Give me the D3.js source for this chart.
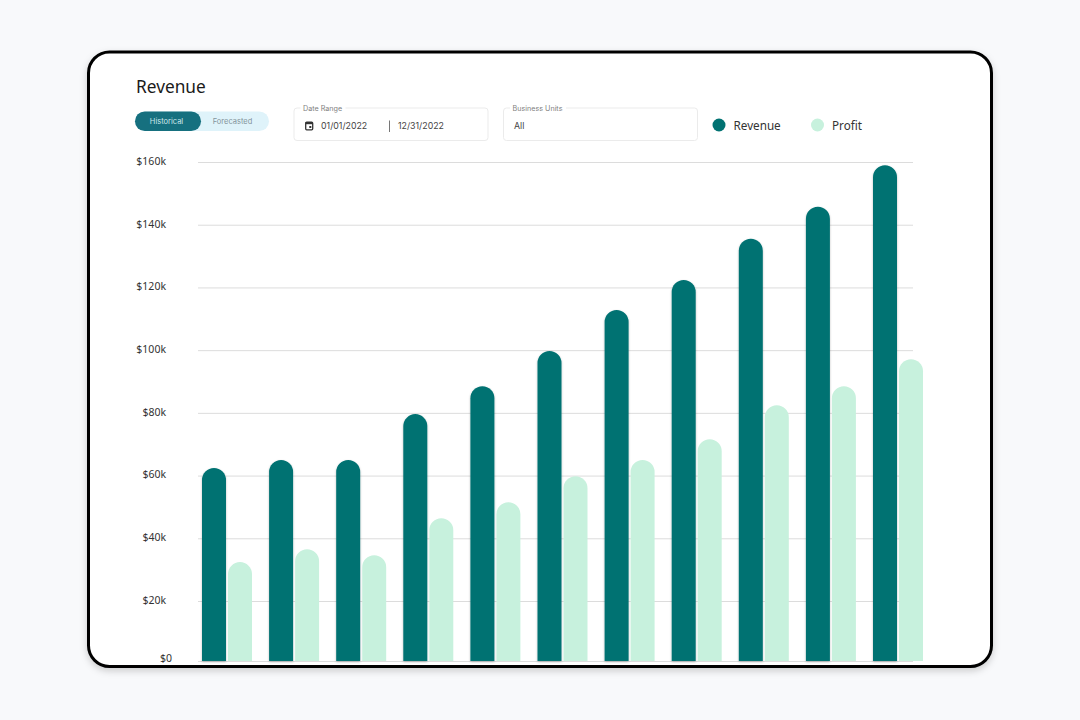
<!DOCTYPE html>
<html><head><meta charset="utf-8">
<style>html,body{margin:0;padding:0;background:#f8f9fb}svg{display:block}</style>
<script src="https://cdn.jsdelivr.net/npm/d3@7"></script></head><body>
<svg id="c" width="1080" height="720"></svg>
<script>
const categories = ["Jan","Feb","Mar","Apr","May","Jun","Jul","Aug","Sep","Oct","Nov"];
const revenue = [62400,65000,65000,79600,88500,99700,112800,122400,135500,145700,159000];
const profit = [32400,36500,34600,46400,51500,59800,65000,71600,82400,88500,97100];
const seriesNames = ["Revenue","Profit"];
const tickValues = [0,20000,40000,60000,80000,100000,120000,140000,160000];
const tickLabels = ["$0","$20k","$40k","$60k","$80k","$100k","$120k","$140k","$160k"];

const TEAL="#017272", MINT="#c7f1dd";
const sans='"Noto Sans","Open Sans",sans-serif', ui='Inter,Roboto,sans-serif';
const svg=d3.select("#c");
const defs=svg.append("defs");
const f=defs.append("filter").attr("id","cardShadow").attr("x","-5%").attr("y","-5%").attr("width","110%").attr("height","112%");
f.append("feDropShadow").attr("dx",0).attr("dy",3).attr("stdDeviation",3.5).attr("flood-color","#000").attr("flood-opacity",.18);
const fb=defs.append("filter").attr("id","barShadow").attr("x","-20%").attr("y","-5%").attr("width","140%").attr("height","110%");
fb.append("feDropShadow").attr("dx",0).attr("dy",1).attr("stdDeviation",1).attr("flood-color","#000").attr("flood-opacity",.25);

svg.append("rect").attr("x",88.5).attr("y",52).attr("width",903).attr("height",614.5).attr("rx",21)
  .attr("fill","#fff").attr("stroke","#000").attr("stroke-width",3).attr("filter","url(#cardShadow)");

svg.append("text").attr("x",136).attr("y",93).attr("font-family",sans).attr("font-size",17.3).attr("fill","#1a1a1a").text("Revenue");

// toggle
svg.append("rect").attr("x",135).attr("y",111.5).attr("width",134).attr("height",19.5).attr("rx",9.75).attr("fill","#dff3fa");
svg.append("rect").attr("x",135).attr("y",111.5).attr("width",66).attr("height",19.5).attr("rx",9.75).attr("fill","#16707f");
svg.append("text").attr("x",166.5).attr("y",124).attr("text-anchor","middle").attr("font-family",ui).attr("font-size",7.5).attr("fill","#cfe8ec").text("Historical");
svg.append("text").attr("x",232.5).attr("y",124).attr("text-anchor","middle").attr("font-family",ui).attr("font-size",7.5).attr("fill","#84949a").text("Forecasted");

// fields
function field(x,w,label,labelW){
  svg.append("rect").attr("x",x+.5).attr("y",108).attr("width",w).attr("height",32.5).attr("rx",3).attr("fill","#fff").attr("stroke","#ebebeb");
  svg.append("rect").attr("x",x+7).attr("y",104).attr("width",labelW).attr("height",7).attr("fill","#fff");
  svg.append("text").attr("x",x+9.5).attr("y",110.5).attr("font-family",ui).attr("font-size",7.2).attr("fill","#808080").text(label);
}
field(293.5,194,"Date Range",45);
field(503,194,"Business Units",56);
const val=(x,t)=>svg.append("text").attr("x",x).attr("y",129).attr("font-family",ui).attr("font-size",8.8).attr("fill","#444").text(t);
val(321,"01/01/2022"); val(398,"12/31/2022"); val(514,"All");
svg.append("line").attr("x1",389.5).attr("x2",389.5).attr("y1",120.5).attr("y2",132).attr("stroke","#777");
const ic=svg.append("g").attr("transform","translate(305,121)");
ic.append("rect").attr("x",.7).attr("y",1.2).attr("width",7).attr("height",7.6).attr("rx",1).attr("fill","none").attr("stroke","#333").attr("stroke-width",1.3);
ic.append("rect").attr("x",.5).attr("y",1).attr("width",7.5).attr("height",2.2).attr("fill","#333");
ic.append("rect").attr("x",4.3).attr("y",5).attr("width",2).attr("height",2).attr("fill","#333");

// scales: the floor of the plot sits where the card cuts it off
const y=d3.scaleLinear().domain([0,20000,160000]).range([661,601,162]);
const x=d3.scaleBand().domain(categories).range([202,923]).paddingInner(0.255);
const sub=d3.scaleBand().domain(seriesNames).range([0,x.bandwidth()]).paddingInner(0.077);
const color=d3.scaleOrdinal(seriesNames,[TEAL,MINT]);

// legend
const legend=svg.append("g").selectAll("g").data(seriesNames).join("g")
  .attr("transform",(d,i)=>`translate(${719+i*98.5},125)`);
legend.append("circle").attr("r",6.5).attr("fill",d=>color(d));
legend.append("text").attr("x",14.5).attr("y",5.3).attr("font-family",sans).attr("font-size",11.7).attr("fill","#333").text(d=>d);

// axis and grid
const axis=d3.axisLeft(y).tickValues(tickValues).tickFormat((d,i)=>tickLabels[i]).tickSize(715).tickPadding(32);
const gA=svg.append("g").attr("transform","translate(913,0)").call(axis);
gA.select(".domain").remove();
gA.selectAll(".tick line").attr("stroke","#dcdcdc").attr("stroke-width",1);
gA.selectAll(".tick text").attr("font-family",sans).attr("font-size",10.5).attr("fill","#333")
  .attr("dy",d=>d===0?"0.05em":"0.22em").attr("dx",d=>d===0?6:0);

// bars
const barPath=(x0,w,top,bot)=>{
  const r=Math.min(w/2,12),p=d3.path();
  p.moveTo(x0,bot);p.lineTo(x0,top+r);p.arc(x0+r,top+r,r,Math.PI,1.5*Math.PI);
  p.lineTo(x0+w-r,top);p.arc(x0+w-r,top+r,r,1.5*Math.PI,2*Math.PI);p.lineTo(x0+w,bot);p.closePath();
  return p.toString();
};
const rows=categories.map((c,i)=>({c,Revenue:revenue[i],Profit:profit[i]}));
seriesNames.forEach(s=>{
  svg.append("g").selectAll("path").data(rows).join("path")
    .attr("d",d=>barPath(x(d.c)+sub(s),sub.bandwidth(),y(d[s]),y(0)))
    .attr("fill",color(s))
    .attr("filter",s==="Revenue"?"url(#barShadow)":null);
});
</script></body></html>
